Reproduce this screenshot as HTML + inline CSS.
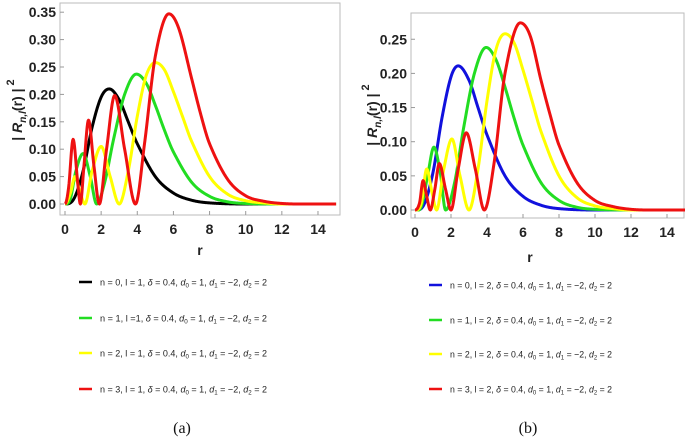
<!DOCTYPE html>
<html><head><meta charset="utf-8"><style>
html,body{margin:0;padding:0;background:#fff;}
svg{display:block;}
text{font-family:"Liberation Sans",Arial,sans-serif;}
.tick{font-weight:bold;font-size:14px;fill:#222;}
.leg{font-size:9.5px;fill:#222;}
.cap{font-family:"Liberation Serif",serif;font-size:16px;fill:#111;}
</style></head><body>
<svg id="svg" width="685" height="437" viewBox="0 0 685 437">
<g id="ga"></g>
<g id="gb"></g>
<text class="cap" x="182" y="433" text-anchor="middle">(a)</text>
<text class="cap" x="528" y="433" text-anchor="middle">(b)</text>
</svg>
<script>
// ---- data: r positions and |R|^2 values ----
const xTicks = [0,2,4,6,8,10,12,14];
const yTicksA = [0,0.05,0.10,0.15,0.20,0.25,0.30,0.35];
const yTicksB = [0,0.05,0.10,0.15,0.20,0.25];
const colorsA = ["#000000","#22dd22","#ffff00","#ee1111"];
const colorsB = ["#1111dd","#22dd22","#ffff00","#ee1111"];
const labelsA = ["n = 0, l = 1, ","n = 1, l =1, ","n = 2, l = 1, ","n = 3, l = 1, "];
const labelsB = ["n = 0, l = 2, ","n = 1, l = 2, ","n = 2, l = 2, ","n = 3, l = 2, "];

const a0r = [0,0.5,1,1.5,2,2.45,3,3.5,4,5,6,7,8,10,15];
const a0v = [0,0.01,0.06,0.14,0.195,0.21,0.19,0.15,0.11,0.05,0.02,0.007,0.002,0,0];
const a1r = [0,0.3,0.6,1.0,1.4,1.75,2.2,2.7,3.3,3.95,4.5,5,5.5,6,7,8,9,10,12,15];
const a1v = [0,0.01,0.06,0.092,0.05,0,0.04,0.12,0.2,0.237,0.22,0.18,0.135,0.095,0.04,0.014,0.004,0.001,0,0];
const a2r = [0,0.3,0.55,0.85,1.1,1.5,2.0,2.5,3.0,3.5,4,4.5,5,5.5,6,6.5,7,8,9,10,11,12,15];
const a2v = [0,0.02,0.05,0.02,0,0.06,0.105,0.05,0,0.06,0.16,0.235,0.258,0.245,0.205,0.16,0.115,0.05,0.018,0.006,0.002,0,0];
const a3r = [0,0.2,0.45,0.7,0.85,1.05,1.3,1.6,1.9,2.3,2.75,3.3,3.9,4.4,5,5.75,6.3,7,7.5,8,9,10,11,12,13,15];
const a3v = [0,0.03,0.118,0.04,0,0.07,0.153,0.07,0,0.1,0.198,0.1,0,0.11,0.27,0.347,0.32,0.23,0.165,0.11,0.045,0.015,0.005,0.001,0,0];

const b0r = [0,0.5,1,1.5,2,2.4,3,3.5,4,5,6,7,8,10,15];
const b0v = [0,0.008,0.055,0.135,0.195,0.211,0.19,0.15,0.11,0.05,0.02,0.007,0.002,0,0];
const b1r = [0,0.35,0.7,1.05,1.4,1.7,2.2,2.7,3.3,3.95,4.5,5,5.5,6,7,8,9,10,12,15];
const b1v = [0,0.005,0.05,0.092,0.055,0,0.04,0.12,0.2,0.238,0.22,0.18,0.135,0.095,0.04,0.014,0.004,0.001,0,0];
const b2r = [0,0.35,0.65,0.95,1.2,1.6,2.05,2.5,3.0,3.5,4,4.5,5,5.5,6,6.5,7,8,9,10,11,12,15];
const b2v = [0,0.01,0.06,0.025,0,0.06,0.104,0.05,0,0.06,0.16,0.235,0.258,0.245,0.205,0.16,0.115,0.05,0.018,0.006,0.002,0,0];
const b3r = [0,0.25,0.45,0.65,0.85,1.1,1.35,1.7,2.0,2.4,2.85,3.35,3.85,4.4,5,5.85,6.4,7,7.5,8,9,10,11,12,13,15];
const b3v = [0,0.01,0.043,0.02,0,0.03,0.068,0.03,0,0.06,0.113,0.06,0,0.07,0.2,0.274,0.255,0.19,0.14,0.095,0.04,0.014,0.005,0.001,0,0];

const NS="http://www.w3.org/2000/svg";
function mk(p,tag,attrs){const e=document.createElementNS(NS,tag);for(const k in attrs)e.setAttribute(k,attrs[k]);p.appendChild(e);return e;}
// cubic Hermite with central-difference tangents; zero tangent at local extrema
function smoothPath(xs,ys,X,Y){
  const n=xs.length,m=new Array(n);
  m[0]=0;m[n-1]=0;
  for(let i=1;i<n-1;i++){
    const dl=ys[i]-ys[i-1],dr=ys[i+1]-ys[i];
    if(dl*dr<=0)m[i]=0;
    else m[i]=(ys[i+1]-ys[i-1])/(xs[i+1]-xs[i-1]);
  }
  let s="";
  for(let i=0;i<n-1;i++){
    const h=xs[i+1]-xs[i];
    const N=Math.max(6,Math.ceil(h*40));
    for(let k=(i==0?0:1);k<=N;k++){
      const t=k/N,t2=t*t,t3=t2*t;
      const v=(2*t3-3*t2+1)*ys[i]+(t3-2*t2+t)*h*m[i]+(-2*t3+3*t2)*ys[i+1]+(t3-t2)*h*m[i+1];
      const r=xs[i]+t*h;
      s+=(s?" L":"M")+X(r).toFixed(2)+","+Y(Math.max(0,v)).toFixed(2);
    }
  }
  return s;
}
function chart(g,cfg){
  const X=r=>cfg.x0+r*cfg.ux, Y=v=>cfg.y0-v*cfg.uy;
  const fr=mk(g,"rect",{x:cfg.fl,y:cfg.ft,width:cfg.fr-cfg.fl,height:cfg.fb-cfg.ft,fill:"none",stroke:"#bbb","stroke-width":1});
  
  
  cfg.yt.forEach(t=>{
    const l=mk(g,"line",{x1:cfg.fl,x2:cfg.fl+4,y1:Y(t),y2:Y(t),stroke:"#999"});
    
    
    const tx=mk(g,"text",{x:cfg.fl-4,y:Y(t)+5,"text-anchor":"end",class:"tick"});
    tx.textContent=t.toFixed(2);
    
    
  });
  xTicks.forEach(t=>{
    const l=mk(g,"line",{x1:X(t),x2:X(t),y1:cfg.fb,y2:cfg.fb-4,stroke:"#999"});
    
    
    const tx=mk(g,"text",{x:X(t),y:cfg.fb+19,"text-anchor":"middle",class:"tick"});
    tx.textContent=t;
    
    
  });
  const xl=mk(g,"text",{x:cfg.xlx,y:cfg.xly,"text-anchor":"middle",class:"tick","font-size":"16"});
  xl.textContent="r";
  
  
  const yl=mk(g,"text",{transform:"translate("+cfg.ylx+","+cfg.yly+") rotate(-90)","text-anchor":"middle",class:"tick","font-size":"16"});
  yl.innerHTML='| <tspan font-style="italic">R</tspan><tspan font-size="10" dy="4" font-style="italic">n,l</tspan><tspan dy="-4">(r) |</tspan><tspan font-size="11" dy="-8"> 2</tspan>';
  
  
  cfg.series.forEach((s,i)=>{
    const p=mk(g,"path",{d:smoothPath(s[0],s[1],X,Y),fill:"none",stroke:cfg.colors[i],"stroke-width":3,"stroke-linejoin":"round"});
    
    
    const ly=cfg.legY[i];
    const ll=mk(g,"line",{x1:cfg.legX,x2:cfg.legX+13,y1:ly,y2:ly,stroke:cfg.colors[i],"stroke-width":2.5});
    
    
    const lt=mk(g,"text",{x:cfg.legX+21,y:ly+3.5,class:"leg",textLength:cfg.legW,lengthAdjust:"spacingAndGlyphs"});
    lt.innerHTML=cfg.labels[i]+'<tspan font-style="italic">δ</tspan> = 0.4, <tspan font-style="italic">d</tspan><tspan font-size="6.5" dy="2">0</tspan><tspan dy="-2"> = 1, </tspan><tspan font-style="italic">d</tspan><tspan font-size="6.5" dy="2">1</tspan><tspan dy="-2"> = −2, </tspan><tspan font-style="italic">d</tspan><tspan font-size="6.5" dy="2">2</tspan><tspan dy="-2"> = 2</tspan>';
    
    
  });
}
chart(document.getElementById("ga"),{x0:65,ux:18.07,y0:204,uy:548,fl:60,fr:340,ft:3,fb:215,yt:yTicksA,
  xlx:200,xly:255,ylx:22,yly:110,colors:colorsA,labels:labelsA,legX:79,legY:[282,318,353,389],legW:167,
  series:[[a0r,a0v],[a1r,a1v],[a2r,a2v],[a3r,a3v]]});
chart(document.getElementById("gb"),{x0:415,ux:18.0,y0:210,uy:683,fl:411,fr:684,ft:13,fb:218,yt:yTicksB,
  xlx:530,xly:262,ylx:377,yly:115,colors:colorsB,labels:labelsB,legX:429,legY:[285,320,354,389],legW:162,
  series:[[b0r,b0v],[b1r,b1v],[b2r,b2v],[b3r,b3v]]});
</script>
</body></html>
